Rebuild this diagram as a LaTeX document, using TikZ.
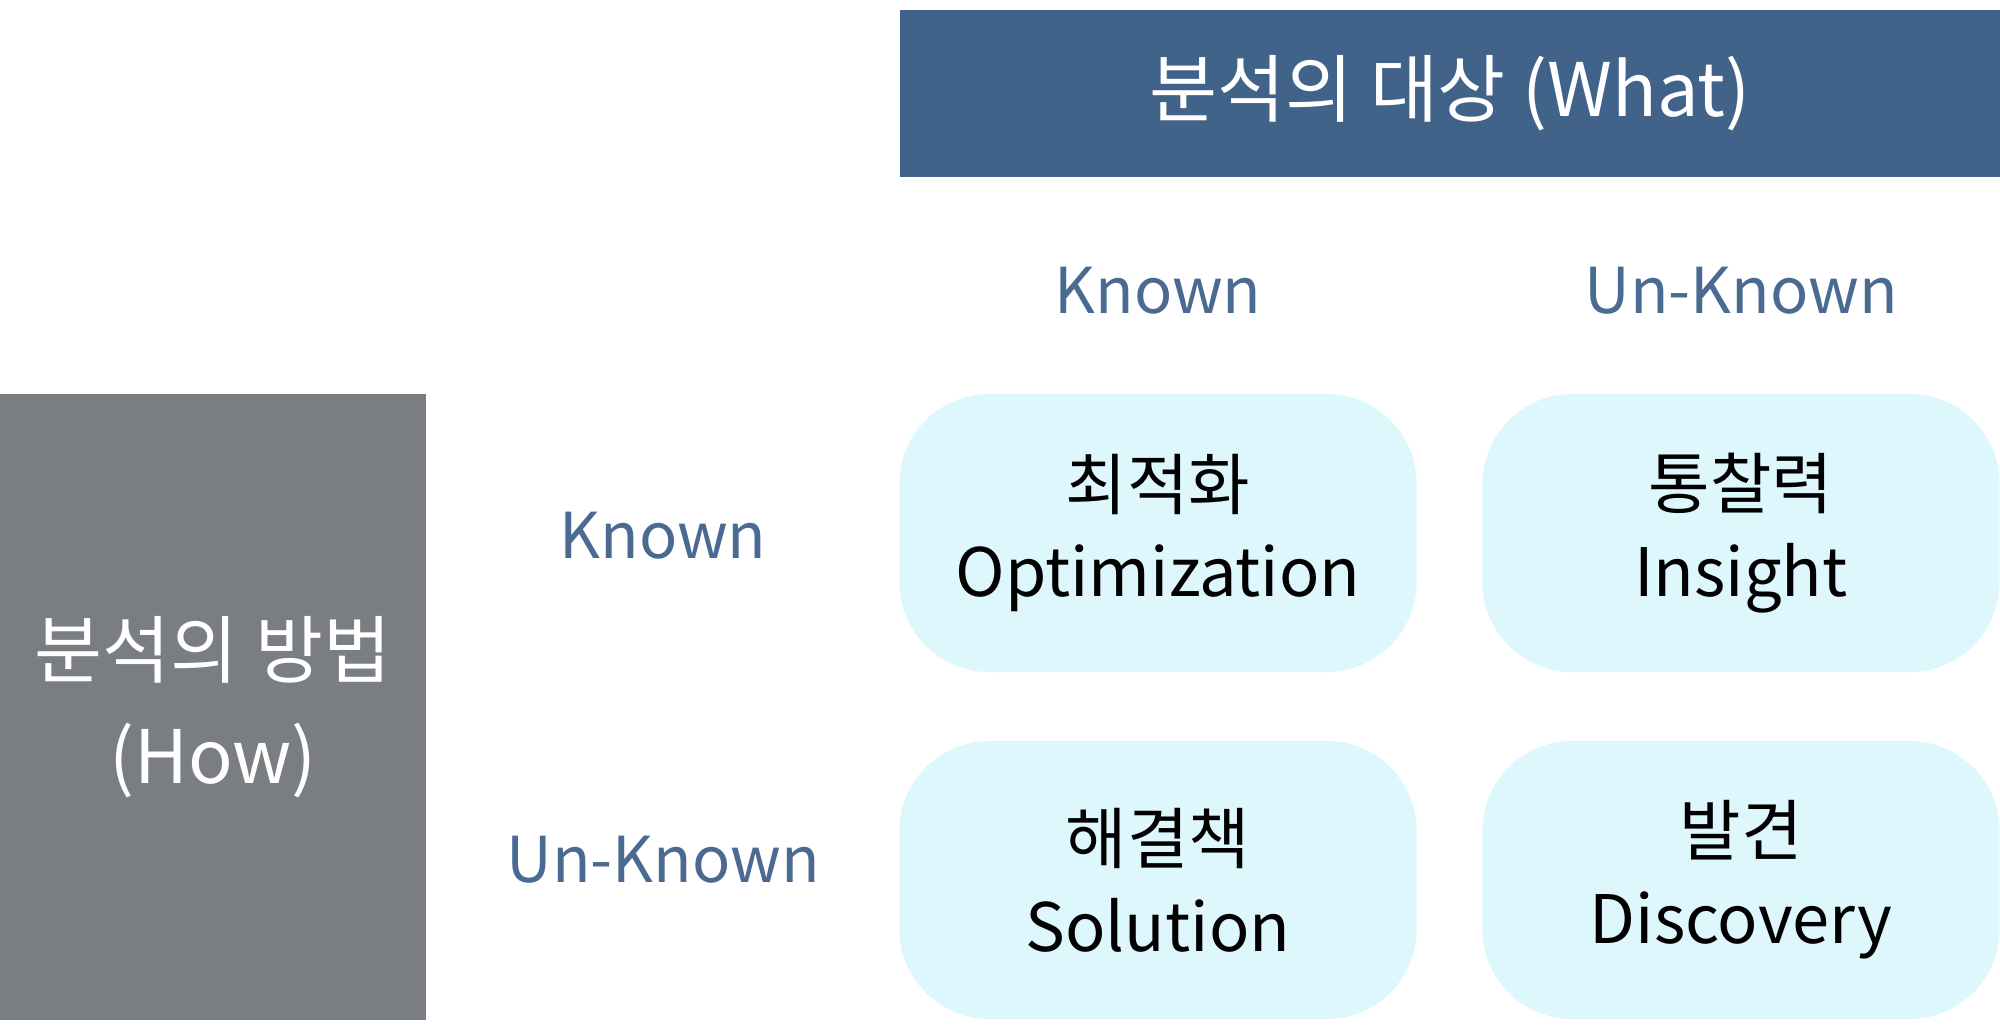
\documentclass[tikz,border=0pt]{standalone}
\usepackage{fontspec}
\setmainfont{Noto Sans CJK KR}
\definecolor{barblue}{HTML}{41638A}
\definecolor{howgray}{HTML}{7A7D82}
\definecolor{cellfill}{HTML}{DDF7FC}
\definecolor{lblblue}{HTML}{4A6A92}
\begin{document}
\begin{tikzpicture}[x=0.01cm,y=-0.01cm,
  cell/.style={fill=cellfill,rounded corners=0.9cm,minimum width=5.17cm,minimum height=2.78cm,align=center,font=\fontsize{19}{25}\selectfont,text=black},
  hdr/.style={text=lblblue,font=\fontsize{18}{22}\selectfont}]
\useasboundingbox (0,0) rectangle (2000,1033);
\node[fill=barblue,minimum width=11cm,minimum height=1.67cm,text=white,font=\fontsize{21}{25}\selectfont] (what) at (1450,93.5) {분석의 대상 (What)};
\node[fill=howgray,minimum width=4.26cm,minimum height=6.26cm,text=white,align=center,font=\fontsize{21}{30}\selectfont] (how) at (213,707) {분석의 방법\\(How)};
\node[hdr] (ck) at (1158,291) {Known};
\node[hdr] (cu) at (1741,291) {Un-Known};
\node[hdr] (rk) at (663,536) {Known};
\node[hdr] (ru) at (663,860) {Un-Known};
\node[cell] (a) at (1158,533) {최적화\\Optimization};
\node[cell] (b) at (1741,533) {통찰력\\Insight};
\node[cell] (c) at (1158,880) {해결책\\Solution};
\node[cell] (d) at (1741,880) {발견\\Discovery};
\end{tikzpicture}
\end{document}
